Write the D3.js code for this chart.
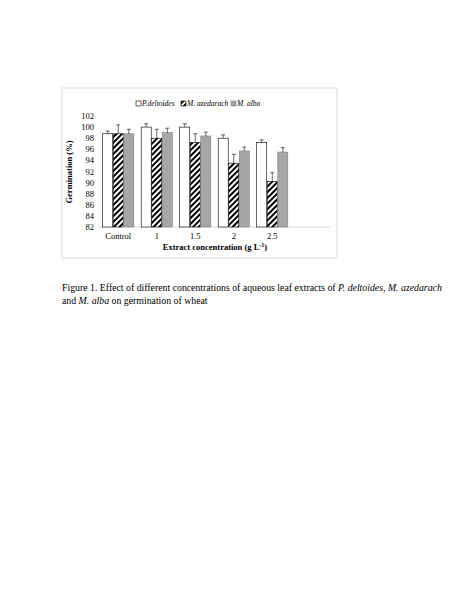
<!DOCTYPE html>
<html><head><meta charset="utf-8">
<script src="https://cdn.jsdelivr.net/npm/d3@7"></script>
<style>body{margin:0;background:#fff;font-family:"Liberation Serif",serif;}</style>
</head><body>
<svg id="c" width="474" height="613"></svg>
<script>
const categories=["Control","1","1.5","2","2.5",""];
const series=["P.deltoides","M. azedarach","M. alba"];
const pdel=[98.8,100,100,98,97.2];
const maze=[98.8,98,97.2,93.5,90.2];
const malb=[98.8,99,98.4,95.7,95.5];
const pdelErr=[0.5,0.6,0.6,0.6,0.5];
const mazeErr=[1.6,1.6,1.6,1.6,1.6];
const malbErr=[0.8,0.8,0.7,0.7,0.8];
const yTicks=[82,84,86,88,90,92,94,96,98,100,102];

const svg=d3.select("#c");
const defs=svg.append("defs");
const pat=defs.append("pattern").attr("id","hatch").attr("patternUnits","userSpaceOnUse")
 .attr("width",4).attr("height",4).attr("patternTransform","rotate(45)");
pat.append("rect").attr("width",4).attr("height",4).attr("fill","#fff");
pat.append("rect").attr("width",2).attr("height",4).attr("fill","#000");
svg.append("rect").attr("x",62).attr("y",88).attr("width",275).attr("height",170).attr("fill","#fff").attr("stroke","#d9d9d9");
const x=d3.scaleBand().domain(categories).range([99,330]);
const xi=d3.scaleBand().domain(series).range([0,x.bandwidth()]).paddingInner(0.05).paddingOuter(0.35);
const y=d3.scaleLinear().domain([82,102]).range([227,116]);
const fills=["#fff","url(#hatch)","#a6a6a6"];
const data=[pdel,maze,malb], errs=[pdelErr,mazeErr,malbErr];
const g=svg.append("g");
g.append("line").attr("x1",99).attr("x2",330).attr("y1",y(82)).attr("y2",y(82)).attr("stroke","#d9d9d9");
yTicks.forEach(t=>g.append("text").attr("x",94).attr("y",y(t)+3).attr("text-anchor","end").attr("font-size",8.5).text(t));
categories.forEach(c=>g.append("text").attr("x",x(c)+x.bandwidth()/2).attr("y",y(82)+12).attr("text-anchor","middle").attr("font-size",8.5).text(c));
series.forEach((s,si)=>{
 data[si].forEach((v,i)=>{
  const c=categories[i], bx=x(c)+xi(s), w=xi.bandwidth();
  g.append("rect").attr("x",bx).attr("y",y(v)).attr("width",w).attr("height",y(82)-y(v))
   .attr("fill",fills[si]).attr("stroke",si==2?"#7f7f7f":"#000").attr("stroke-width",0.6);
  const cx=bx+w/2,e=errs[si][i];
  g.append("line").attr("x1",cx).attr("x2",cx).attr("y1",y(v)).attr("y2",y(v+e)).attr("stroke","#000").attr("stroke-width",0.6);
  g.append("line").attr("x1",cx-2).attr("x2",cx+2).attr("y1",y(v+e)).attr("y2",y(v+e)).attr("stroke","#000").attr("stroke-width",0.6);
 });
});
// legend
const lx=[136,181,231];
series.forEach((s,si)=>{
 g.append("rect").attr("x",lx[si]).attr("y",101).attr("width",5).attr("height",5).attr("fill",fills[si]).attr("stroke",si==2?"#7f7f7f":"#000").attr("stroke-width",0.6);
 g.append("text").attr("x",lx[si]+6).attr("y",106).attr("font-size",7.5).attr("font-style","italic").text(s);
});
g.append("text").attr("x",215).attr("y",250).attr("text-anchor","middle").attr("font-size",8.5).attr("font-weight","bold")
 .html('Extract concentration (g L<tspan baseline-shift="super" font-size="6">-1</tspan>)');
g.append("text").attr("transform","translate(72,172) rotate(-90)").attr("text-anchor","middle").attr("font-size",8.5).attr("font-weight","bold").text("Germination (%)");
svg.append("text").attr("x",62).attr("y",291).attr("font-size",9.8)
 .html('Figure 1. Effect of different concentrations of aqueous leaf extracts of <tspan font-style="italic">P. deltoides, M. azedarach</tspan>');
svg.append("text").attr("x",62).attr("y",304).attr("font-size",9.8).html('and <tspan font-style="italic">M. alba</tspan> on germination of wheat');
</script></body></html>
